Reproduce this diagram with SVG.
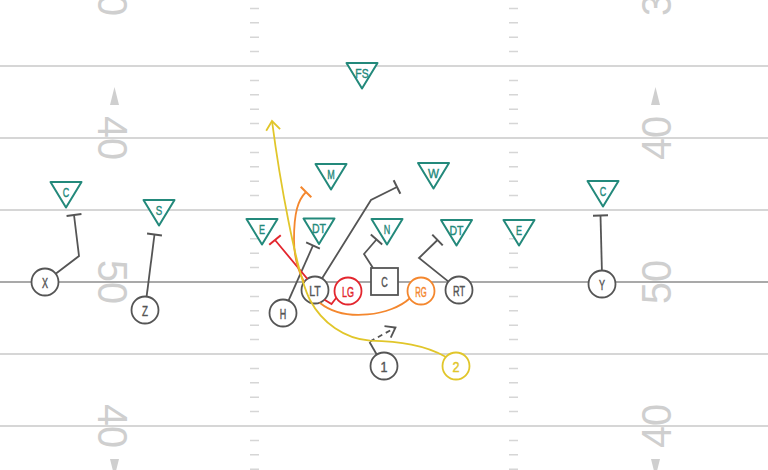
<svg xmlns="http://www.w3.org/2000/svg" xmlns:xlink="http://www.w3.org/1999/xlink" width="768" height="470" viewBox="0 0 768 470">
<style>
.yl{stroke:#d6d6d6;stroke-width:2;fill:none}
.los{stroke:#8c8c8c;stroke-width:1.6;fill:none}
.hash{stroke:#d6d6d6;stroke-width:1.5;fill:none}
.num{font-family:"Liberation Sans",Arial,sans-serif;font-size:43px;fill:#cfcfcf;text-anchor:middle}
.arr{fill:#cfcfcf}
.off circle,.off rect{fill:#fff;stroke:#555;stroke-width:1.8}
.olab{font-family:"Liberation Sans",Arial,sans-serif;font-size:15.5px;text-anchor:middle;fill:#555;stroke:#555;stroke-width:0.45}
.red circle{stroke:#e3262e}.red text{fill:#e3262e;stroke:#e3262e}
.org circle{stroke:#f4872e}.org text{fill:#f4872e;stroke:#f4872e}
.yel circle{stroke:#e1c62a}.yel text{fill:#e1c62a;stroke:#e1c62a}
.def use{fill:#fff;stroke:#23897b;stroke-width:2;stroke-linejoin:round}
.dlab{font-family:"Liberation Sans",Arial,sans-serif;font-size:13.5px;text-anchor:middle;fill:#23897b;stroke:#23897b;stroke-width:0.4}
.rt{fill:none;stroke-width:1.8}
.g{stroke:#555}.r{stroke:#e3262e}.o{stroke:#f4872e}.y{stroke:#e1c62a}
</style>
<defs>
<path id="tri" d="M-15.5,0 L15.5,0 L0,25.5 Z"/>
<marker id="tG" markerUnits="userSpaceOnUse" orient="auto" overflow="visible" markerWidth="1" markerHeight="1"><path d="M0,-7.5V7.5" stroke="#555" stroke-width="2"/></marker>
<marker id="tR" markerUnits="userSpaceOnUse" orient="auto" overflow="visible" markerWidth="1" markerHeight="1"><path d="M0,-7.5V7.5" stroke="#e3262e" stroke-width="2"/></marker>
<marker id="tO" markerUnits="userSpaceOnUse" orient="auto" overflow="visible" markerWidth="1" markerHeight="1"><path d="M0,-7.5V7.5" stroke="#f4872e" stroke-width="2"/></marker>
<marker id="aY" markerUnits="userSpaceOnUse" orient="auto" overflow="visible" markerWidth="1" markerHeight="1"><path d="M-9,-7L0,0L-9,7" fill="none" stroke="#e1c62a" stroke-width="1.8"/></marker>
<marker id="aG" markerUnits="userSpaceOnUse" orient="auto" overflow="visible" markerWidth="1" markerHeight="1"><path d="M-9,-6.5L0,0L-9,6.5" fill="none" stroke="#555" stroke-width="1.8" stroke-dasharray="none"/></marker>
<mask id="mLT" maskUnits="userSpaceOnUse" x="0" y="0" width="768" height="470"><rect width="768" height="470" fill="#fff"/><circle cx="315" cy="290" r="13.5" fill="#000"/></mask>
</defs>
<rect width="768" height="470" fill="#fff"/>
<g id="field">
<path class="yl" d="M0,66H768M0,138H768M0,210H768M0,354H768M0,426H768"/>
<path class="los" d="M0,282H768"/>
<path class="hash" d="M250,8.4h9M250,22.8h9M250,37.2h9M250,51.6h9M250,80.4h9M250,94.8h9M250,109.2h9M250,123.6h9M250,152.4h9M250,166.8h9M250,181.2h9M250,195.6h9M250,224.4h9M250,238.8h9M250,253.2h9M250,267.6h9M250,296.4h9M250,310.8h9M250,325.2h9M250,339.6h9M250,368.4h9M250,382.8h9M250,397.2h9M250,411.6h9M250,440.4h9M250,454.8h9M250,469.2h9"/>
<path class="hash" d="M509,8.4h9M509,22.8h9M509,37.2h9M509,51.6h9M509,80.4h9M509,94.8h9M509,109.2h9M509,123.6h9M509,152.4h9M509,166.8h9M509,181.2h9M509,195.6h9M509,224.4h9M509,238.8h9M509,253.2h9M509,267.6h9M509,296.4h9M509,310.8h9M509,325.2h9M509,339.6h9M509,368.4h9M509,382.8h9M509,397.2h9M509,411.6h9M509,440.4h9M509,454.8h9M509,469.2h9"/>
<text class="num" transform="translate(98,-6) rotate(90)" textLength="44" lengthAdjust="spacingAndGlyphs">30</text>
<text class="num" transform="translate(98,138) rotate(90)" textLength="44" lengthAdjust="spacingAndGlyphs">40</text>
<text class="num" transform="translate(98,282) rotate(90)" textLength="44" lengthAdjust="spacingAndGlyphs">50</text>
<text class="num" transform="translate(98,426) rotate(90)" textLength="44" lengthAdjust="spacingAndGlyphs">40</text>
<text class="num" transform="translate(671,-6) rotate(-90)" textLength="44" lengthAdjust="spacingAndGlyphs">30</text>
<text class="num" transform="translate(671,138) rotate(-90)" textLength="44" lengthAdjust="spacingAndGlyphs">40</text>
<text class="num" transform="translate(671,282) rotate(-90)" textLength="44" lengthAdjust="spacingAndGlyphs">50</text>
<text class="num" transform="translate(671,426) rotate(-90)" textLength="44" lengthAdjust="spacingAndGlyphs">40</text>
<polygon class="arr" points="114.5,87 110,105 119,105"/>
<polygon class="arr" points="655.5,87 651,105 660,105"/>
<polygon class="arr" points="110,459 119,459 114.5,477"/>
<polygon class="arr" points="651,459 660,459 655.5,477"/>
</g>
<g id="defense">
<g id="FS" class="def"><use href="#tri" x="362" y="63"/><text class="dlab" x="362" y="77.5" textLength="13.3" lengthAdjust="spacingAndGlyphs">FS</text></g>
<g id="M" class="def"><use href="#tri" x="331" y="164"/><text class="dlab" x="331" y="178.5" textLength="7.5" lengthAdjust="spacingAndGlyphs">M</text></g>
<g id="W" class="def"><use href="#tri" x="433.5" y="163"/><text class="dlab" x="433.5" y="177.5" textLength="11" lengthAdjust="spacingAndGlyphs">W</text></g>
<g id="C-left" class="def"><use href="#tri" x="66" y="182"/><text class="dlab" x="66" y="196.5" textLength="6.5" lengthAdjust="spacingAndGlyphs">C</text></g>
<g id="S" class="def"><use href="#tri" x="159" y="200"/><text class="dlab" x="159" y="214.5" textLength="6.5" lengthAdjust="spacingAndGlyphs">S</text></g>
<g id="C-right" class="def"><use href="#tri" x="603" y="181"/><text class="dlab" x="603" y="195.5" textLength="6.5" lengthAdjust="spacingAndGlyphs">C</text></g>
<g id="E-left" class="def"><use href="#tri" x="262" y="219"/><text class="dlab" x="262" y="233.5" textLength="6" lengthAdjust="spacingAndGlyphs">E</text></g>
<g id="DT-left" class="def"><use href="#tri" x="319" y="218.5"/><text class="dlab" x="319" y="233" textLength="14" lengthAdjust="spacingAndGlyphs">DT</text></g>
<g id="N" class="def"><use href="#tri" x="387" y="219"/><text class="dlab" x="387" y="233.5" textLength="6.5" lengthAdjust="spacingAndGlyphs">N</text></g>
<g id="DT-right" class="def"><use href="#tri" x="456.5" y="220"/><text class="dlab" x="456.5" y="234.5" textLength="14" lengthAdjust="spacingAndGlyphs">DT</text></g>
<g id="E-right" class="def"><use href="#tri" x="519" y="220"/><text class="dlab" x="519" y="234.5" textLength="6" lengthAdjust="spacingAndGlyphs">E</text></g>
</g>
<g id="offense">
<g id="X" class="off"><circle cx="45" cy="282" r="13.5"/><text class="olab" x="45" y="287.6" textLength="6" lengthAdjust="spacingAndGlyphs">X</text></g>
<g id="Z" class="off"><circle cx="145" cy="310" r="13.5"/><text class="olab" x="145" y="315.6" textLength="6" lengthAdjust="spacingAndGlyphs">Z</text></g>
<g id="H" class="off"><circle cx="283" cy="313" r="13.5"/><text class="olab" x="283" y="318.6" textLength="6.5" lengthAdjust="spacingAndGlyphs">H</text></g>
<g id="LT" class="off"><circle cx="315" cy="290" r="13.5"/><text class="olab" x="315" y="295.6" textLength="11.5" lengthAdjust="spacingAndGlyphs">LT</text></g>
<g id="LG" class="off red"><circle cx="348" cy="291" r="13.5"/><text class="olab" x="348" y="296.6" textLength="12" lengthAdjust="spacingAndGlyphs">LG</text></g>
<g id="C" class="off"><rect x="371" y="268" width="27" height="27"/><text class="olab" x="384.5" y="287.1" textLength="6.5" lengthAdjust="spacingAndGlyphs">C</text></g>
<g id="RG" class="off org"><circle cx="421" cy="291" r="13.5"/><text class="olab" x="421" y="296.6" textLength="11.5" lengthAdjust="spacingAndGlyphs">RG</text></g>
<g id="RT" class="off"><circle cx="459" cy="290" r="13.5"/><text class="olab" x="459" y="295.6" textLength="12" lengthAdjust="spacingAndGlyphs">RT</text></g>
<g id="n1" class="off"><circle cx="384" cy="366" r="13.5"/><text class="olab" x="384" y="371.6" textLength="7" lengthAdjust="spacingAndGlyphs">1</text></g>
<g id="n2" class="off yel"><circle cx="456" cy="366" r="13.5"/><text class="olab" x="456" y="371.6" textLength="7" lengthAdjust="spacingAndGlyphs">2</text></g>
<g id="Y" class="off"><circle cx="602" cy="284" r="13.5"/><text class="olab" x="602" y="289.6" textLength="6" lengthAdjust="spacingAndGlyphs">Y</text></g>
</g>
<g id="connectors">
<path class="rt g" d="M55.7,273.8 L79,256 L74,215" marker-end="url(#tG)"/>
<path class="rt g" d="M146.6,296.6 L154.5,234.5" marker-end="url(#tG)"/>
<path class="rt g" d="M601.9,270.5 L600.5,215.5" marker-end="url(#tG)"/>
<path class="rt g" d="M288.5,300.7 L313,245.5" marker-end="url(#tG)"/>
<path class="rt g" d="M322,278.5 L371,200 L397,187" marker-end="url(#tG)"/>
<path class="rt g" d="M373,268 L364,254 L376.5,239.5" marker-end="url(#tG)"/>
<path class="rt g" d="M448.5,281.6 L419,258 L437.5,240" marker-end="url(#tG)"/>
<path class="rt g" d="M377,355 L369.5,342"/>
<path class="rt g" d="M370,341.5 L395.5,327.5" stroke-dasharray="5,4" marker-end="url(#aG)"/>
<path class="rt r" d="M336.5,297.5 L331.5,304 L325,300 L275,240" mask="url(#mLT)" marker-end="url(#tR)"/>
<path class="rt o" d="M409.5,298.5 C392,315 345,323 320,303 C303,286 294,266 294,240 C294,212 298,200 306,192" mask="url(#mLT)" marker-end="url(#tO)"/>
<path class="rt y" d="M446,357 C425,345 400,341.5 370,340.7 C345,339 322,323 310,300 C296,273 279,175 272,121" marker-end="url(#aY)"/>
</g>
</svg>
